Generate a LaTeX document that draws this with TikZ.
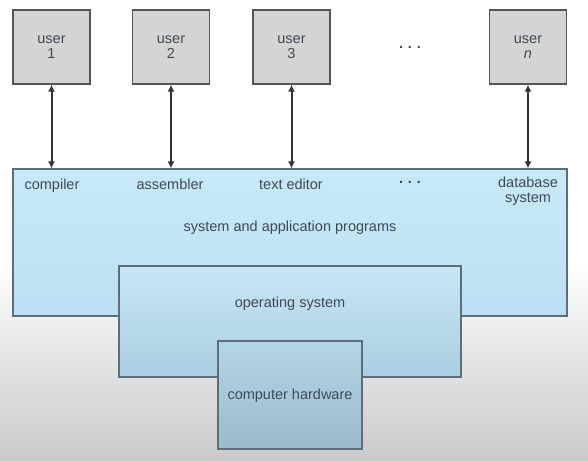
\documentclass[tikz,border=0pt]{standalone}
\usepackage{fontspec}
\setmainfont{Liberation Sans}
\usetikzlibrary{arrows.meta}
\definecolor{txt}{HTML}{404A55}
\definecolor{usrfill}{HTML}{D4D4D4}
\definecolor{usrdraw}{HTML}{555555}
\definecolor{bluedraw}{HTML}{5E6E78}
\definecolor{appstop}{RGB}{199,233,250}
\definecolor{appsbot}{RGB}{188,224,243}
\definecolor{ostop}{RGB}{200,230,246}
\definecolor{osbot}{RGB}{170,206,226}
\definecolor{hwtop}{RGB}{180,213,231}
\definecolor{hwbot}{RGB}{156,186,205}
\begin{document}
\begin{tikzpicture}[x=1pt,y=-1pt,
  every node/.style={font=\fontsize{14.5}{15}\selectfont, text=txt},
  userbox/.style={draw=usrdraw, line width=1.3pt, fill=usrfill, minimum width=77pt, minimum height=74pt, inner sep=0pt, align=center},
  layerbox/.style={draw=bluedraw, line width=1.2pt, inner sep=0pt},
  lbl/.style={inner sep=0pt, align=center},
  rowlbl/.style={inner sep=0pt, align=center, anchor=base},
  conn/.style={draw=black!80, line width=2pt, {Latex[length=7pt,width=7pt]}-{Latex[length=7pt,width=7pt]}}
]
% background
\useasboundingbox (0,0) rectangle (588,460);
\fill[white] (0,0) rectangle (588,460);
\shade[top color=white, bottom color=black!21] (0,262) rectangle (588,460);

% users
\node[userbox] (u1) at (51.5,47) {user\\1};
\node[userbox] (u2) at (171,47) {user\\2};
\node[userbox] (u3) at (291.5,47) {user\\3};
\node[userbox] (un) at (528,47) {user\\\textit{n}};
\node[lbl, font=\bfseries\fontsize{14.5}{15}\selectfont] (udots) at (410,47) {.\,\,.\,\,.};

% layers
\node[layerbox, top color=appstop, bottom color=appsbot, minimum width=554pt, minimum height=147pt] (apps) at (290,242.5) {};
\node[layerbox, top color=ostop, bottom color=osbot, minimum width=342pt, minimum height=111pt] (os) at (290,321.5) {};
\node[layerbox, top color=hwtop, bottom color=hwbot, minimum width=144pt, minimum height=108pt] (hw) at (290,395) {};

% labels
\node[rowlbl] (compiler) at (52,189) {compiler};
\node[rowlbl] (assembler) at (170,189) {assembler};
\node[rowlbl] (editor) at (291,189) {text editor};
\node[lbl, font=\bfseries\fontsize{14.5}{15}\selectfont] (pdots) at (410,182) {.\,\,.\,\,.};
\node[lbl] (db) at (528,191.5) {database\\system};
\node[lbl] (sap) at (290,228) {system and application programs};
\node[lbl] (ost) at (290,304) {operating system};
\node[lbl] (hwt) at (290,396) {computer hardware};

% connectors
\draw[conn] (u1.south) -- (u1.south |- apps.north);
\draw[conn] (u2.south) -- (u2.south |- apps.north);
\draw[conn] (u3.south) -- (u3.south |- apps.north);
\draw[conn] (un.south) -- (un.south |- apps.north);
\end{tikzpicture}
\end{document}
